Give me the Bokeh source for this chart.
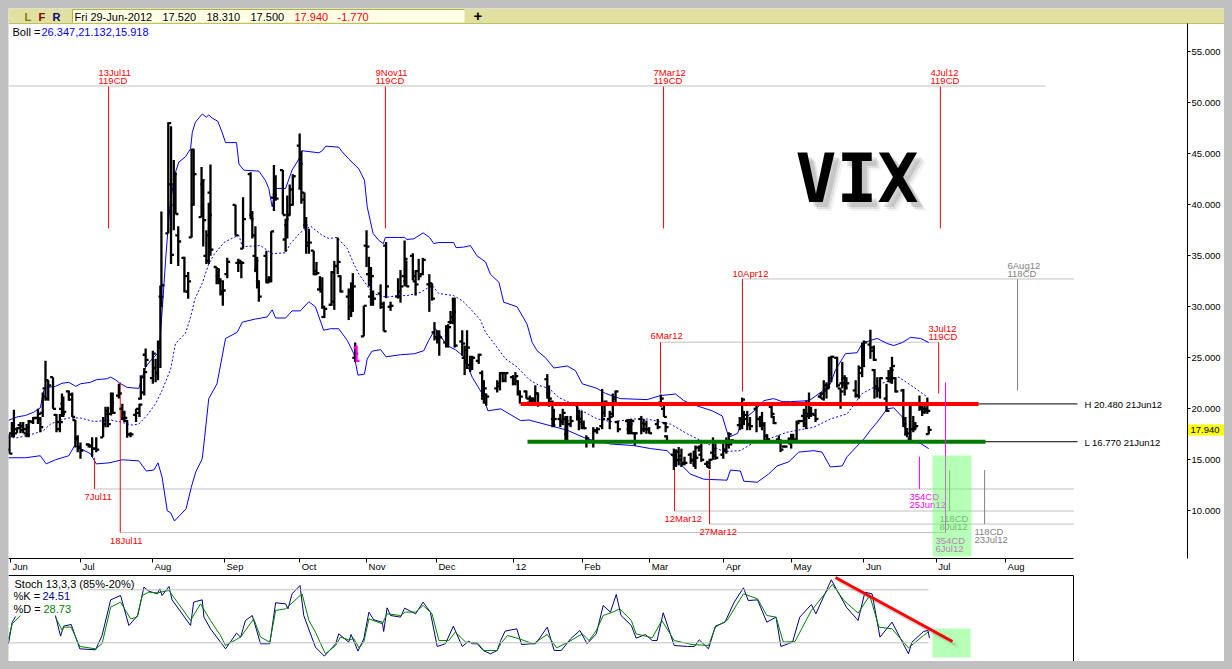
from bokeh.plotting import figure
from bokeh.models import Range1d, LinearAxis, FixedTicker, NumeralTickFormatter
from bokeh.core.properties import value
from bokeh.embed import file_html
from bokeh.resources import INLINE

# ---------- price bars (bar position, high, low, open, close)
bar_x = [-0.3,0.4,1.0,1.9,2.9,3.7,4.7,5.3,6.6,8,8.7,9.4,10.2,11,12.4,13.4,14.4,15,15.4,17,18,18.9,19.6,20.4,
 22.8,23.8,25,27,27.7,28.4,29.3,29.8,31.6,32.6,33.2,34,35,36.6,37.6,38,39,39.4,41.5,42.3,43,
 43.7,44,46,46.8,47.6,48.1,48.9,50.7,51.8,52.8,53.4,55.7,56.2,57.1,57.8,58.3,60.1,60.7,61.2,61.9,63.2,66.4,67.3,65.6,67.8,
 70,70.5,71.4,71.9,72.4,74.6,75.3,76,76.8,77.3,79.4,80.2,80.7,81.4,82.3,84.3,84.8,85.7,86.2,87,88.4,89.2,90.2,90.9,91.5,
 93.6,94.4,95.4,96.2,98.6,99.3,99.8,100.5,103,103.8,104.5,105.1,105.7,107.9,108.8,109.5,110.8,113,113.7,114.9,115.4,117.3,118.1,119,120.2,122.1,122.9,
 123.6,124.4,125,127,127.6,128.3,129,129.5,131.7,132.4,133.1,134,134.6,136.5,137.5,138,138.7,141.9,142.7,143.5,144.3,146.5,147.2,147.9,148.5,
 150.4,151.4,152.1,153,153.8,156.5,157,158,158.4,160.3,161,161.8,162.3,163.3,165.2,165.7,166.5,167.1,167.9,169.9,171,172.5,173.2,174.7,175.6,176.4,177.1,
 180,180.5,181,182,183.9,184.6,185.4,186.2,188.7,189.6,190.5,191,191.4,193.4,194,194.8,195.6,196.5,198.3,199.2,199.7,200.7,201.4,203.1,203.8,204.8,205.5,
 207.8,208.7,209.4,210.1,212.6,213.3,213.8,214.8,215.6,217.5,218.5,219.1,219.8,220.6,221.9,222.5,224,224.5,225.7,226.9,227.6,228.2,229.2,230.3,
 231.3,232,232.8,233.4,234.7,236.2,237.1,237.9,238.6,239.3,241,242,242.5,243.2,243.7,246.4,247.3,248.3,248.8,250.7,251.7,251.9,252.7,253.5,255.4,256,256.6,257,258,
 260.3,260.9,261.4,262.4,263.2,263.8,265,265.8,266.5,267.3,267.7]
bar_high = [17.5,18.7,19.9,18.2,18.7,18.7,18.5,18.9,19.2,20,19.2,21.6,24.7,22.8,23.1,19.5,19.5,21.5,21.2,21.8,21.6,18.9,17.4,16.7,
 16.6,17.2,17.2,19.2,20.2,20.2,21.6,21.6,22.45,20.5,19.8,18.9,17.7,20,20.5,23.3,24,25.9,25.7,24.9,26.7,
 32.1,39.35,48.1,47.7,44.4,43.2,37.9,34.9,33.4,45.5,45.4,43.7,42.5,37.5,40.2,43.95,33.9,33.7,32.8,32.6,34.8,34.7,34.5,40,40.75,
 43.2,39.4,37.9,34.9,32.6,35.5,33,37.4,43.9,42.9,43.4,38.6,40.9,42,43,47,45.3,41.2,38.8,37.65,35.5,34.4,33,32.9,29.9,
 33.5,34.5,36.8,33.1,31.8,32.4,33.3,26.5,30.1,37.5,34.9,33.9,31.6,32.2,30.5,36.35,30.5,32.8,33.6,36.5,34.55,35.25,33.6,34.7,34.8,33.2,32.3,
 28.5,27.7,27.7,28.2,28.3,29.6,30.9,30.9,27.7,26.2,27.7,25.2,25.2,25.4,23.75,22.8,21.5,22.8,23.6,23.6,23.5,23.3,23.6,22.8,21.8,
 21.8,21.3,21.1,22.3,21.6,23.4,22.3,20.8,20,19.5,20,19.3,19.3,19.3,20.5,19.7,19.8,18.85,17.4,18.2,18.2,21.95,20.8,19.8,21.5,21.8,18.85,
 19,19,19,17.7,19.3,19,18.85,18.2,19,21.4,20.3,18.7,17.4,16.1,16,16.25,16.1,15.3,15.7,15.9,16.4,16.4,16.6,14.9,15.1,17.2,16.6,
 16.6,17.2,17.7,17,19.2,21.1,19.8,19.8,19.2,20.5,19.3,19.7,18.7,17.5,20.3,19.3,17.4,17,16.4,17.2,17.55,17.55,18.85,18.9,
 20,20.8,21.6,20.2,20,21.6,22.8,22.6,25.1,25.2,25.1,22,24.6,23.3,23.1,22.8,24.25,26.5,26.7,27.75,26.2,23.9,23.1,23.1,22.45,23.8,24.1,25.1,23.1,
 21.95,19.2,17.9,20.5,19.3,18.7,21.3,20.5,20.5,21.1,18.31]
bar_low = [15.6,17.2,17.2,17.6,17.6,17.6,17.2,17.2,18.5,18.5,17.7,19.2,20.8,20.8,20,17.7,17.7,19.2,19.2,20.8,19.2,16.2,15.75,15.1,
 16.2,15.3,15.75,17.2,18.2,18.2,19.35,19.5,21,18.9,18.7,17.15,17.2,18.7,19.2,20.9,21.3,24.1,22.45,22.6,22.8,
 24,30,37.2,34.2,37.5,39.1,34,31.4,30.8,36.8,39.9,38.8,35.9,34.2,34.2,35,32.2,32.2,31.1,30.1,32.8,33.4,32.8,37,35.7,
 38.6,36.7,33.4,31.8,30.5,32.3,32.4,32.4,39.4,40.4,39.05,35.4,36.7,38.95,39.9,41.6,40.1,37.65,35.2,35.2,33.1,33.1,31.6,29.8,28.9,
 30.1,29.7,33.2,31.4,28.7,29,29.5,24.6,27.1,33.9,32,30.1,30.1,29.8,27.6,30.85,29.6,30.8,30.4,32,32,32.6,31.1,32.6,33.1,29.5,30.6,
 26.7,26.4,25.2,26,26,28.3,28.3,26,25.2,23.3,23.9,23.6,23.8,24.4,21.1,20.5,20.3,21.6,21.8,22.6,22.6,22.3,22.3,21.3,20.5,
 21,20.3,20.5,20.5,20.2,21,20.2,18.2,18.2,18.2,18.4,16.9,16.9,18.2,18.85,17.9,18,18,16.2,16.2,17.55,18,19.2,18,19.2,20.5,17.7,
 17.5,17.5,17.5,16.4,17.5,17.7,17.55,17.55,18,20.2,19.2,17.7,16.7,14,14.3,14.45,14.3,14.45,14.6,14.3,14.1,15.8,14.8,14.3,14.1,15,15,
 15.1,15.6,16.1,16.4,17.9,18,18.4,17.9,17.9,17.7,18.2,17.9,16.9,16.9,19.2,18.5,16.6,15.75,16.2,16.6,16.1,16.7,16.7,18.7,
 18.2,18,19,19.2,18.7,21,20.8,21,22,22.6,22.1,20,22,21.3,22,21.1,21,23.1,24.1,24.9,24.7,21,21.1,21,19.7,22.6,22.5,22.45,21.6,
 18.2,17.4,17.2,16.9,17.7,18,19.8,19.3,19.5,19.5,17.5]
bar_open = [16,17.6,18,18,18.4,18.3,17.6,17.5,18.7,19.1,19,19.6,22,21,23.1,19.4,18,20,20.5,21.7,21.4,18.9,17,16.2,
 16.5,16.3,16.1,17.2,18.5,19.8,19.5,20,21.3,20,19,18.8,17.5,19.4,19.6,21,21.6,25.3,23,24,23.5,
 26,31,37.2,42,42,40,37,34.8,31.5,36.8,40,38.8,42,35,34.5,41.2,33.9,33,32.7,31.3,33.2,34.3,34.5,40,35.7,
 43,39,35,33.6,32.5,35,32.6,32.5,40.7,41,43.4,36.6,38,39,40,45.8,41.6,40.5,38,36,35.5,33.5,31.7,31.5,29,
 30.2,30.5,34,33,31,30,31.5,25,27.1,36,33.2,31,31,31.3,30,36,30,31,31,33,32.5,35,32.5,33.5,33.2,32.2,32,
 27.5,27,26.8,26.5,27,28.5,28.5,30.7,26.6,25,24.5,24.3,24.4,24.7,23.5,21,21.4,22,22.2,23.5,22.8,23.1,22.5,22.7,21.7,
 21.7,20.6,20.8,21,21.5,22.9,21.5,20.7,19,19,18.8,19,17.5,18.5,20.4,19.4,18.7,18.5,16.8,16.8,17.8,18.3,19.6,19,19.5,20.6,18.7,
 18.8,18,18.2,17.6,19,18.6,18.5,18,18.5,20.6,20,18.6,17.3,15.5,14.8,15,15,14.7,15.5,14.9,14.6,16.2,15.5,14.6,14.3,15.7,16,
 15.5,15.9,16.5,16.6,18.4,19,19,19,18.5,20,19,19,18.5,17.3,20.2,19.2,17,16.9,16.3,16.8,16.6,17,17,18.8,
 19.3,18.5,19.3,19.4,19.4,21.2,21,21.8,22.3,23.5,25,22,22.5,22.5,22.3,21.8,21.3,23.5,24.5,26.3,25.7,23.8,22.2,22,21,23,23,23,23,
 21.8,19,17.5,17,18,18.2,20.5,20,20,19.8,17.52]
bar_close = [15.6,18,17.6,18.1,17.9,18,18.2,18.8,19.1,19.5,18.2,21.2,22.8,22.3,20,18.7,18.7,19.5,19.7,20.9,19.2,17.2,16.3,15.9,
 16.4,16.1,16,18.5,19.5,18.5,20.6,19.6,21.5,19.6,19.1,17.5,17.5,20,20.4,23.1,23.6,24.8,25.4,23.5,26.5,
 31,32.1,48,35.1,43,39.1,36.4,33,32.5,45.4,43,42.4,38.5,37,39,35.6,33.7,32.5,31.5,31.6,34.4,34.3,34.3,37,38.6,
 38.6,37,34.5,32.3,31,32.4,32.8,37.4,41,40.6,39,38.6,39,41.5,42.8,44,41.2,38,36.3,36.3,33.2,33.3,31.7,30,29.8,
 33.4,34,34.4,31.5,31.5,30,32,25.4,30.1,35.9,33.5,33,30.8,30.3,27.6,32,30.1,31.5,32,34.7,32,33,32.2,33,34.6,32.3,30.8,
 27,27.2,27,27,28,29,29.5,26.2,26.4,25.8,26,24.6,25,25.3,22.2,22,21.2,22.5,23.5,23.5,23.5,22.9,23.2,21.5,21.2,
 21,21,20.8,21.5,20.5,21.6,21,18.4,19,18.7,19.6,18.8,18.5,18.8,19.8,19,18.2,18.1,17.1,17.9,18,19,20.7,19.2,21,21.7,18,
 17.9,18.5,18.8,17.6,18,18,18,17.6,18.2,21,19.2,18.2,16.8,15.9,15.8,15.4,14.6,14.7,15,15.4,15.2,16.3,15,14.7,15,15.4,15.2,
 16,16.8,17.5,16.9,19,20.9,19.4,18.4,18.3,19,18.6,18.4,17.4,17,19.5,18.6,16.8,16,16.3,17,17.2,16.9,18.6,18.8,
 19,19.5,20,19.5,19,21.5,22.3,22,25,25.1,22.3,21.7,23,22,22.5,21.3,24,24.2,26.5,26,24.8,22,21.8,23,19.8,23.5,23.8,24.2,21.7,
 18.5,18,17.6,20.4,18,18.3,20.2,19.7,20,19.8,17.94]
assert len(bar_x)==len(bar_high)==len(bar_low)==len(bar_open)==len(bar_close), (len(bar_x),len(bar_high),len(bar_low),len(bar_open),len(bar_close))

# magenta highlighted bar
pink_x, pink_high, pink_low, pink_open, pink_close = [100.9], [26.2], [24.6], [26.0], [24.7]

# ---------- Bollinger bands
upper_x = [-0.6,1.9,4.4,6.8,8.7,9.7,10.7,13.1,15,17,19,20.4,23.3,25,28.2,29.2,30.6,31.9,34,37.4,38.4,39.4,40.8,42.8,43.5,
 44.4,45.2,46.2,46.7,48.1,49.1,51,52.5,53,53.9,55.9,57.1,57.8,58.8,60.4,61.7,62.7,65.9,66.6,68,72.4,74.3,75.3,76.3,77.3,80.2,82.1,84.1,85,89.9,90.9,91.9,95.7,96.7,98.6,101.6,103.2,104,105.7,107.4,108.7,109.3,113.2,114.9,115.6,117.6,120.3,122.2,123.4,124.9,129.2,129.9,132.1,134.1,136,138.5,139.9,
 142.4,143.8,147.7,150.6,152.1,153.5,156,158.4,162.3,164.7,166.7,171,173.5,177.8,185.6,189.5,193.9,196.3,198.2,204.6,207.5,209.4,212,213,215,217.2,219.6,222.5,225,227.4,232.8,236.2,239,240.5,242.5,243.4,246.8,248.3,250.7,252.7,255.6,257.5,260,262.4,265.3,267.7]
upper_v = [18.86,19.2,19.35,19.67,20.1,21.8,22.1,22.2,22.5,22.6,22.2,22.45,22.6,22.85,22.95,23.1,22.85,22.5,22.1,22,23.1,24.1,24.7,25.4,26.4,
 30.46,34.5,38.8,40.5,43.2,44.2,44.7,45.5,47.1,48.1,48.9,48.6,48.8,48.5,48.2,47.1,46.1,46.1,44,43.4,43.3,42.4,41.6,39.8,41.6,41.6,43.4,44.5,45.3,45.1,45.3,45.75,45.65,45.2,44.5,43.5,42.4,39.8,37.2,36.5,36.2,36.8,36.8,36.8,36.6,36.67,37.25,36.8,36.2,36.3,36.3,35.8,35.85,36,35,34.4,33.2,
 32.4,30.45,30,28.3,26.5,25.7,25,24,24.2,23.75,22.45,22,21.5,21,20.9,21.3,21.45,20.8,20.5,19.8,19.3,17.2,17.6,18.5,19.3,19.9,20.8,21,20.7,20.7,20.8,21.6,22.4,23.8,24.9,25.4,25.5,26.4,26.7,26.9,26.4,26.2,26.5,27,26.9,26.5]
middle_x = [-0.6,1.9,4.9,6.8,9.7,11.7,14.1,17,20.4,24.3,29.2,32.1,35.5,37.4,39.8,42.3,44.2,46.7,48.1,51,52.2,
 52.5,53.8,55.9,57.8,59.3,62.2,65.1,66.6,67.6,72.9,76.3,80.2,81.6,84.6,87.5,89,90.9,92.8,95.2,98.2,100.1,101.6,105.4,107.4,109.8,
 113.2,115.6,119.5,121.4,122.9,124.9,129.2,131.7,134.1,137,138.5,141.9,144.3,147.7,151.1,154,157,159.9,163.7,167.2,171.1,175.9,180.8,185.6,192.4,197.3,203,208,212.8,216.7,220.6,226.4,234.2,239,243.9,248.3,253.7,259,263.4,267.3]
middle_v = [17.2,17.15,17.4,17.55,17.9,18.5,18.85,19.1,19.1,18.75,18.9,18.7,18.4,18.5,19.35,20.5,21.8,23.9,26.4,27.4,28.66,
 29,30.8,32.3,34.2,35.1,36.3,36.8,37,35.9,36,35.2,35.3,36.2,37.3,37.9,37.5,37,36.7,36.8,35.7,34.2,33.2,31.4,31.1,30.95,
 31.1,31.1,31.4,31.8,32.1,31.3,31.1,30.6,29.8,28.7,27.5,26,24.9,24.1,22.9,22.3,22,21.1,20.5,19.7,19,18.7,19,19,18.5,17.55,16.6,15.8,15.9,16.7,17,17.7,18.2,19,19.5,21.5,22.45,23.1,22.1,21.15]
lower_x = [-0.6,4.4,8.7,10.4,13.1,17,18.7,20.4,23.3,25,28.7,32.6,37.4,39.6,41.8,43,44.2,45.7,46.7,47.8,51.2,52.7,54,55.9,56.6,57.8,60.2,62.7,66.1,67.6,
 71.4,74.8,76.3,77.3,80.2,82.1,84.5,87,88.9,91.3,93.3,95.7,98.2,100.1,101.3,103.2,104,105.4,107.9,109.5,113.7,117.8,120.5,121.9,123.9,127.3,129.7,132.2,134.6,137.5,139.2,142.9,148.7,151.2,
 162.3,168.1,174.9,181.7,186.6,191.4,194.4,198.2,202.1,208.9,209.9,212.8,213.8,217.7,221,223.5,226.9,229.8,234.2,236.6,239,242.5,243.9,248.8,250.7,252.7,255.6,257.5,260,261.4,262.4,265.3,267.7]
lower_v = [15.2,15.2,15.4,14.6,15,15.4,16.4,16.1,15.6,14.6,14.7,15,14.9,13.9,14,14.7,13.3,10,9.8,9,10.2,12.3,13.8,15.1,17.2,21,22.45,26.9,27.5,28.5,
 28.8,29,29.7,28.9,28.9,29.6,29.6,30.5,30,27.7,27.85,27.85,26.7,25.4,23.3,23.4,24.9,25.65,25.8,25.1,25.3,25.4,25.7,26.7,27.85,26.2,25.8,25.1,23.1,21.5,19.8,20,18.85,18.9,
 17.9,17.05,16.55,16.4,16.1,15.9,14.9,13.6,13.1,13,14,13.9,12.9,12.8,13.6,14.4,14.8,15.75,15.9,15.75,14.3,14.4,15.3,17.05,17.9,18.7,20,20.1,19.2,17.4,16.9,16.6,16.1]
assert len(upper_x)==len(upper_v) and len(middle_x)==len(middle_v) and len(lower_x)==len(lower_v)

# ---------- Stochastic (the lines are hidden behind the legend between bars 2 and 13)
gap = float("nan")
k_x = [-0.6,0.5,1.5,7,13.1,14.6,15.5,17.7,20.2,24.8,26.7,29.2,32.1,34.5,37.1,38.9,40.3,42.8,43.5,44.2,46.2,47.1,52.5,53.4,55.9,56.4,58.3,62.7,65.9,67.1,68.5,70.5,72.9,75.6,77.3,80.2,80.9,82.1,84.4,85.5,88.9,91.5,94.8,95.7,98.6,99.3,101.3,103,104.5,105.9,108.4,108.8,109.8,110.8,113.7,114.9,118.1,120.3,122.4,124.4,126.8,129.1,131.7,133.6,134.6,136.1,137.8,139.9,141.9,142.9,
 144.2,147.6,149,151.7,153.1,156.5,158.5,160.6,163.3,166,168.1,170.8,172.8,174.9,176.6,178,181,182.4,185.1,187.1,188.5,190.3,193.5,197.4,199.4,200.8,203.5,205.5,208.3,211,213.7,215.1,217.8,220.5,223.2,224.6,228,230.1,233.5,234.8,239.3,243.7,247.1,249.1,251.2,253.5,257,261.8,262.8,266.2,267.5,267.9]
k_v = [18.8,45.3,52.3,gap,53.5,28.2,40.4,42.5,12.6,11.4,29,72.7,78,41.2,53.5,88.3,83.4,80.1,86.2,78,89.1,72.7,41.2,69.9,72.7,51.5,37.2,12.6,31.8,27,47.4,53.5,18.8,18.8,69.1,67.8,61.7,80.1,90.3,53.5,14.7,3.6,18.8,31,20.8,30.2,9.8,24.9,57.6,48.2,45.3,33.9,62.9,53.5,51.5,62.5,55.6,69.9,57.6,15.5,18.8,40.4,15.5,22,18.8,18.8,10.6,6.5,10.6,22.8,
 34.3,37.2,17.9,18.8,18.8,39.2,10.6,10.6,24.9,35.1,18.8,31,65.8,57.6,79.3,53.5,41.2,25.7,30.2,22.8,22.8,56.8,16.7,15.5,15.5,23.7,12.6,40.4,45.3,69.9,87.5,71.9,72.7,45.3,51.5,15.5,20.8,51.5,67,55.6,97.3,63.7,47.4,82.1,80.1,26.9,45.3,6.5,20.8,33.9,35.1,26.1]
d_x = [-0.6,0.5,2.9,7,13.1,15.1,15.5,17.7,20.2,24.8,26.7,29.2,32.1,35,36.9,38.4,40.3,42.8,46.2,47.6,52.5,55.4,58.3,61.2,62.7,67.1,70.9,72.9,75.6,77.3,80.2,85,87,88.9,91.8,94.8,96.2,98.6,100.1,101.6,103,104.5,108.4,109.8,113.7,115.1,118.1,120.3,122.9,124.9,127.8,129.7,132.7,136.1,138,141.9,142.9,
 144.9,148.3,152.4,156.5,159.2,162.6,166.7,168.7,170.8,172.8,175.6,177.6,181,182.4,187.1,189.9,193.5,198.7,203.5,205.5,208.9,213.7,217.8,220.5,223.2,225.3,228.7,233.5,239.6,243,247.1,250.5,253.2,257,261.8,266.2,267.5]
d_v = [24.9,43.3,53.5,gap,51.5,35.1,39.2,39.2,15.5,12.6,18.8,63.7,69.9,49.4,51.5,78,82.1,81.3,84.2,76,47.4,67.8,47.4,29,16.7,27,49.4,27,20.8,59.7,61.7,80.1,47.4,33.1,6.5,16.7,27,23.7,24.9,13.8,20.8,49.4,43.3,55.6,53.5,57.6,57.6,65.8,55.6,22.8,22.8,33.1,20.8,20,10.6,10.6,18.8,
 29,24.9,18.8,30.2,13.8,20.8,31,22.8,35.1,53.5,57.6,61.7,47.4,31,26.1,47.4,22.8,17.9,16.7,39.2,47.4,80.1,74,53.5,51.5,20.8,21.6,59.7,91.6,71.9,56.4,78,39.2,37.2,13.8,29,33.1]
assert len(k_x)==len(k_v) and len(d_x)==len(d_v), (len(k_x),len(k_v),len(d_x),len(d_v))

# ---------- time ticks
month_ticks = [0,20.4,41.4,62.4,84.3,103.8,124.2,146.7,166.7,186.4,208,227.7,248.8,269.9,290.1]
month_names = ["Jun","Jul","Aug","Sep","Oct","Nov","Dec","12","Feb","Mar","Apr","May","Jun","Jul","Aug"]
price_ticks = [10,15,20,25,30,35,40,45,50,55]

# ---------- cycle markers
red_x  = [28.6,109.3,190.4,271.1,24.5,32,193.6,203.8,189.5,213.4,270.6]
red_y0 = [51.6,51.6,51.6,51.6,15.2,22.6,14,14,26.53,32.73,26.53]
red_y1 = [37.68,37.68,37.68,37.68,12.14,7.87,9.98,8.7,21.5,21.7,21.5]
pink_line_x  = [265,272.6]
pink_line_y0 = [15.3,22.6]
pink_line_y1 = [12.14,7.87]
gray_x  = [293.6,273.8,284]
gray_y0 = [32.7,13.95,14]
gray_y1 = [21.8,9.98,8.7]
level_v  = [51.65,12.14,7.87,9.98,8.7,26.53,32.73]
level_x0 = [-0.6,24.5,32,193.6,203.8,189.5,213.4]
level_x1 = [301.7,310,272.6,310,310,270.6,310]
high_level, low_level = 20.48, 16.77
last_price = 17.94

def X(px): return (px - 10) / 3.43
def Y(py): return 60.03 - py * 0.09804
S_PER_PX = 1 / 0.815

p = figure(width=1216, height=653, output_backend="svg", toolbar_location=None,
           x_range=Range1d(X(8), X(1224)), y_range=Range1d(Y(661), Y(8)),
           x_axis_type=None, y_axis_type=None, min_border=0, min_border_left=0, min_border_right=0,
           min_border_top=0, min_border_bottom=0, outline_line_color=None, background_fill_color="white",
           border_fill_color="white")
p.grid.visible = False
p.extra_y_ranges = {"stoch": Range1d(20 - (661 - 642.3) * S_PER_PX, 20 + (642.3 - 8) * S_PER_PX)}

FONT = "Liberation Sans"
def txt(px, py, s, color="black", size="9.5px", style="normal", font=FONT, align="left", alpha=1.0):
    p.text(x=[X(px)], y=[Y(py)], text=[s], text_color=color, text_font_size=size, text_font_style=style,
           text_font=value(font), text_align=align, text_baseline="middle", text_alpha=alpha)

# levels
p.segment(level_x0, level_v, level_x1, level_v, line_color="#c0c0c0", line_width=1)

# Bollinger
p.line(upper_x, upper_v, line_color="#0000ff", line_width=1)
p.line(lower_x, lower_v, line_color="#0000ff", line_width=1)
p.line(middle_x, middle_v, line_color="#0000ff", line_width=1, line_dash="2 2")

# cycle lines
p.segment(red_x, red_y0, red_x, red_y1, line_color="#ff0000", line_width=1)
p.segment(gray_x, gray_y0, gray_x, gray_y1, line_color="#808080", line_width=1)

# Bars
BW = 2.3
p.segment(bar_x, bar_high, bar_x, bar_low, line_color="black", line_width=BW)
p.segment([x - 0.85 for x in bar_x], bar_open, bar_x, bar_open, line_color="black", line_width=BW)
p.segment(bar_x, bar_close, [x + 0.85 for x in bar_x], bar_close, line_color="black", line_width=BW)
p.segment(pink_x, pink_high, pink_x, pink_low, line_color="#ff00ff", line_width=BW)
p.segment([x - 0.85 for x in pink_x], pink_open, pink_x, pink_open, line_color="#ff00ff", line_width=BW)
p.segment(pink_x, pink_close, [x + 0.85 for x in pink_x], pink_close, line_color="#ff00ff", line_width=BW)

# H / L
p.segment([X(909), X(909)], [high_level, low_level], [X(1077), X(1077)], [high_level, low_level], line_color="black", line_width=1)
p.segment([X(909)], [high_level], [X(909)], [low_level], line_color="black", line_width=1.5)
p.line([X(520), X(978)], [high_level, high_level], line_color="#ff0000", line_width=4)
p.line([X(527), X(985)], [low_level, low_level], line_color="#007a00", line_width=4)
txt(1084, 403.5, "H 20.480 21Jun12")
txt(1084, 441.5, "L 16.770 21Jun12")

# cycle labels
RED, GRY, MAG = "#ff0000", "#808080", "#ff00ff"
for x0, t in [(98, "13Jul11"), (375, "9Nov11"), (653, "7Mar12"), (930, "4Jul12")]:
    txt(x0, 72, t, RED); txt(x0, 80, "119CD", RED)
txt(84, 495.5, "7Jul11", RED); txt(109.5, 539.5, "18Jul11", RED)
txt(664, 517.5, "12Mar12", RED); txt(699, 530.5, "27Mar12", RED)
txt(650, 335, "6Mar12", RED); txt(732, 272.5, "10Apr12", RED)
txt(928, 327.5, "3Jul12", RED); txt(928, 335.5, "119CD", RED)
txt(1007, 264.5, "6Aug12", GRY); txt(1007, 272.5, "118CD", GRY)
txt(909, 495.5, "354CD", MAG); txt(909, 503.5, "25Jun12", MAG)
txt(939, 517.5, "118CD", GRY); txt(939, 525.5, "8Jul12", GRY)
txt(935, 539.5, "354CD", MAG); txt(935, 547.5, "6Jul12", MAG)
txt(974, 530.5, "118CD", GRY); txt(974, 538.5, "23Jul12", GRY)

# pink verticals and green box
p.segment(pink_line_x, pink_line_y0, pink_line_x, pink_line_y1, line_color="#ff00ff", line_width=1)
p.quad(left=[X(932)], right=[X(971)], top=[Y(455)], bottom=[Y(556)], fill_color="#66ff66", fill_alpha=0.48, line_color=None)

# VIX title with soft shadow
for off, a in [(9, 0.06), (7, 0.1), (5, 0.14)]:
    txt(795 + off, 178 + off, "VIX", "#333333", "68px", "bold", "DejaVu Sans Mono", alpha=a)
txt(795, 178, "VIX", "black", "68px", "bold", "DejaVu Sans Mono")

# axes
ax = LinearAxis(fixed_location=X(1187), ticker=FixedTicker(ticks=price_ticks),
                formatter=NumeralTickFormatter(format="0.000"), bounds=(Y(557.5), Y(23)))
ax.axis_line_color = "black"; ax.axis_line_width = 1
ax.major_tick_line_color = "black"; ax.major_tick_out = 3; ax.major_tick_in = 0
ax.minor_tick_line_color = None
ax.major_label_text_font = FONT; ax.major_label_text_font_size = "9.5px"
ax.major_label_text_color = "black"; ax.major_label_standoff = 1
p.add_layout(ax, "right")

bx = LinearAxis(fixed_location=Y(557.5), ticker=FixedTicker(ticks=month_ticks), bounds=(X(8), X(1073)))
bx.axis_line_color = "black"; bx.axis_line_width = 1
bx.major_tick_line_color = "black"; bx.major_tick_out = 4; bx.major_tick_in = 0
bx.minor_tick_line_color = None
bx.major_label_text_color = None; bx.major_label_text_font_size = "1px"
p.add_layout(bx, "below")
for t, n in zip(month_ticks, month_names):
    txt(10 + t * 3.43 + 2, 566, n, "black")

# price tag
p.quad(left=[X(1187)], right=[X(1224)], top=[Y(424)], bottom=[Y(435)], fill_color="#ffff00", line_color=None)
txt(1190, 429.5, f"{last_price:.3f}")

# header
p.quad(left=[X(8)], right=[X(1224)], top=[Y(8)], bottom=[Y(23)], fill_color="#e0e0a0", line_color=None)
p.quad(left=[X(72)], right=[X(464)], top=[Y(9)], bottom=[Y(22)], fill_color="#ffffe6", line_color=None)
p.line([X(72), X(464)], [Y(9), Y(9)], line_color="#b0b040", line_width=1)
p.line([X(72), X(72)], [Y(9), Y(22)], line_color="#b0b040", line_width=1)
p.line([X(8), X(1224)], [Y(23), Y(23)], line_color="#c0c060", line_width=1)
txt(24, 16, "L", "#808000", "11px", "bold")
txt(38, 16, "F", "#800000", "11px", "bold")
txt(52, 16, "R", "#000080", "11px", "bold")
txt(473, 15.5, "+", "black", "15px", "bold")
txt(74, 16, "Fri 29-Jun-2012", "black", "11px")
txt(162, 16, "17.520", "black", "11px")
txt(206, 16, "18.310", "black", "11px")
txt(250, 16, "17.500", "black", "11px")
txt(294, 16, "17.940", "#ff0000", "11px")
txt(337, 16, "-1.770", "#ff0000", "11px")
txt(12, 31, "Boll =", "black", "11px")
txt(41, 31, "26.347,21.132,15.918", "#0000ff", "11px")

# stochastic panel
p.line([X(8), X(1073), X(1073)], [Y(575), Y(575), Y(661)], line_color="black", line_width=1)
p.line(k_x, k_v, y_range_name="stoch", line_color="#000080", line_width=1)
p.line(d_x, d_v, y_range_name="stoch", line_color="#008000", line_width=1)
p.segment([X(87), X(8)], [85, 20], [X(928), X(928)], [85, 20], y_range_name="stoch", line_color="#c0c0c0", line_width=1)
txt(14, 583, "Stoch 13,3,3 (85%-20%)", "black", "11px")
txt(13, 595, "%K =", "black", "11px"); txt(42, 595, "24.51", "#000080", "11px")
txt(13, 608, "%D =", "black", "11px"); txt(43, 608, "28.73", "#008000", "11px")
p.quad(left=[X(932)], right=[X(970)], top=[Y(628)], bottom=[Y(657)], fill_color="#66ff66", fill_alpha=0.48, line_color=None)
for off, a in [(5, 0.1), (3, 0.2)]:
    p.line([X(835 + off), X(952 + off)], [Y(577 + off), Y(641 + off)], line_color="#666666", line_alpha=a, line_width=3)
p.line([X(835), X(952)], [Y(577), Y(641)], line_color="#ff0000", line_width=3)

html = file_html(p, INLINE)
html = html.replace("<head>", "<head><style>html,body{background:#c0c0c0;overflow:hidden}body{margin:8px !important}</style>", 1)
open("out.html", "w").write(html)
